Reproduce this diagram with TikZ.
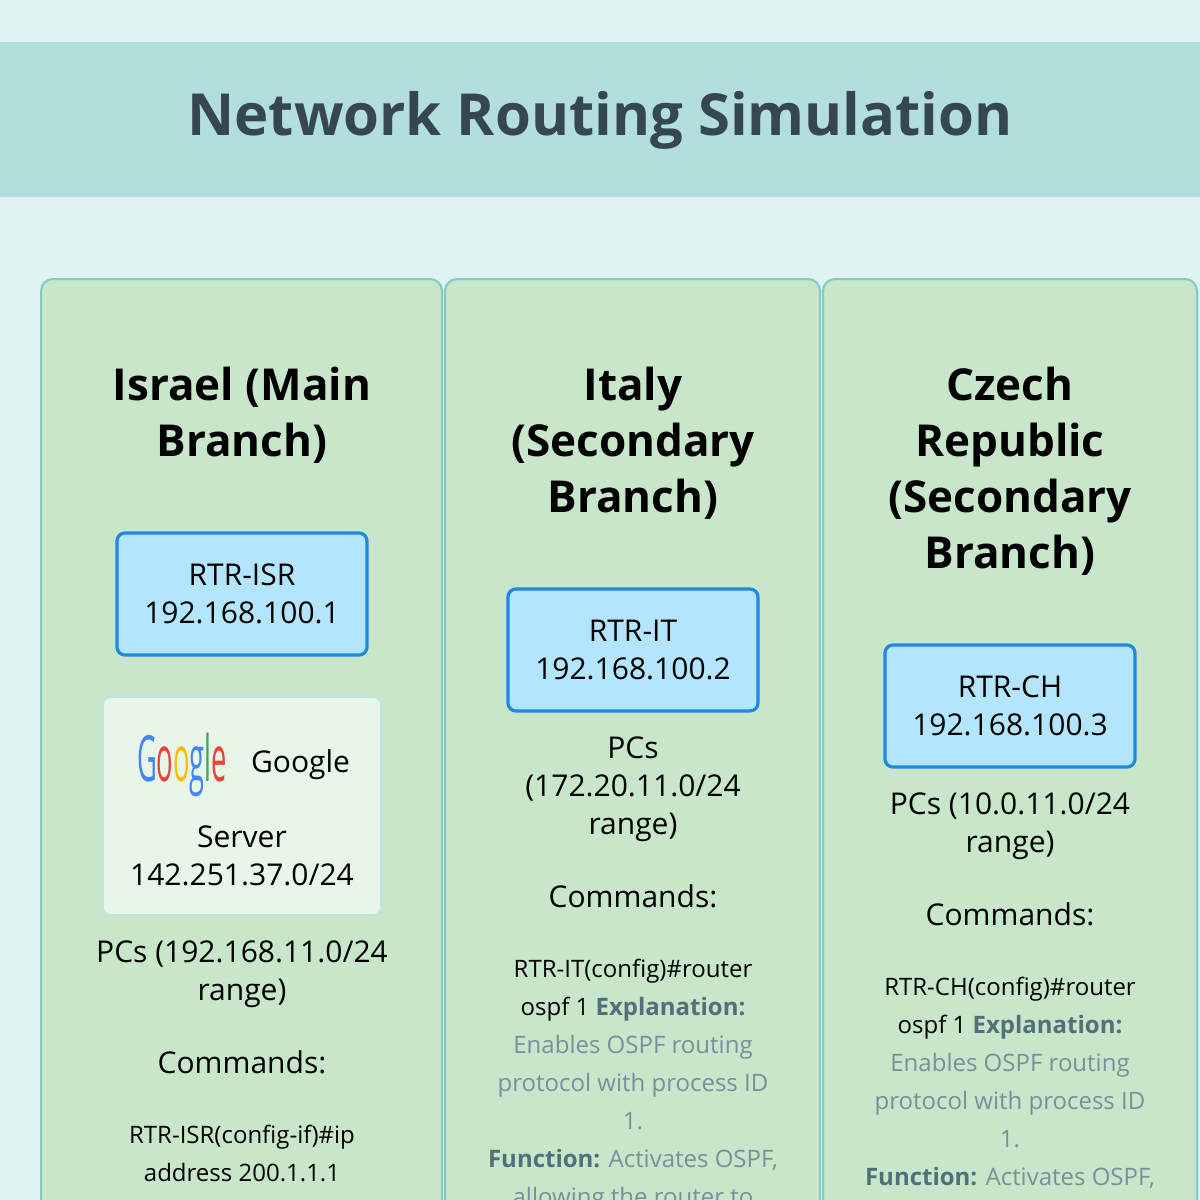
\documentclass[tikz,border=0pt]{standalone}
\usepackage{fontspec}
\setmainfont{Open Sans}
\usetikzlibrary{positioning}
\definecolor{pagebg}{HTML}{E0F2F1}
\definecolor{bandbg}{HTML}{B2DFDB}
\definecolor{titlefg}{HTML}{37474F}
\definecolor{colbg}{HTML}{C8E6C9}
\definecolor{colline}{HTML}{80CBC4}
\definecolor{rtrbg}{HTML}{B3E5FC}
\definecolor{rtrline}{HTML}{1E88E5}
\definecolor{srvbg}{HTML}{E8F5E9}
\definecolor{explfg}{HTML}{78909C}
\definecolor{lblfg}{HTML}{546E7A}
\definecolor{gblue}{HTML}{4285F4}
\definecolor{gred}{HTML}{EA4335}
\definecolor{gyellow}{HTML}{FBBC05}
\definecolor{ggreen}{HTML}{34A853}
\newcommand{\fsz}[2]{\fontsize{#1}{#2}\selectfont}
\newcommand{\lbl}[1]{{\bfseries\color{lblfg}#1}}
\newcommand{\expl}[1]{{\color{explfg}#1}}
\begin{document}
\begin{tikzpicture}[x=0.5pt,y=-0.5pt,
  column/.style={draw=colline, fill=colbg, line width=1pt, rounded corners=6pt},
  heading/.style={font=\fsz{22}{28}\bfseries, align=center, text=black},
  router/.style={draw=rtrline, fill=rtrbg, line width=1.6pt, rounded corners=4pt,
    minimum width=125pt, minimum height=61pt, align=center, font=\fsz{15}{19}},
  body/.style={font=\fsz{15}{19}, align=center},
  cmds/.style={font=\fsz{12}{19}, align=center, anchor=north}]
\useasboundingbox (0,0) rectangle (1200,1200);
\clip (0,0) rectangle (1200,1200);
\fill[pagebg] (0,0) rectangle (1200,1200);
\fill[bandbg] (0,42) rectangle (1200,197);
\node[text=titlefg, font=\fsz{29}{36}\bfseries] (title) at (600,120) {Network Routing Simulation};
% columns
\draw[column] (41,1230) -- (41,279) -- (442,279) -- (442,1230);
\draw[column] (445,1230) -- (445,279) -- (820,279) -- (820,1230);
\draw[column] (823,1230) -- (823,279) -- (1197,279) -- (1197,1230);
% Israel
\node[heading] (isrhead) at (242,415) {Israel (Main\\Branch)};
\node[router] (rtrisr) at (242,594) {RTR-ISR\\192.168.100.1};
\draw[draw=colline!50, fill=srvbg, rounded corners=4pt, line width=0.8pt] (103,697) rectangle (381,915);
\node[font=\fsz{22}{22}, xscale=0.62, yscale=1.45] (glogo) at (182,765) {\color{gblue}G\color{gred}o\color{gyellow}o\color{gblue}g\color{ggreen}l\color{gred}e};
\node[font=\fsz{15}{19}, anchor=west] (gname) at (244,765) {Google};
\node[body] (srv) at (242,856) {Server\\142.251.37.0/24};
\node[body] (isrpcs) at (242,974) {PCs (192.168.11.0/24\\range)};
\node[body] (isrcmd) at (242,1062) {Commands:};
\node[cmds] (isrlines) at (242,1118) {RTR-ISR(config-if)\#ip\\address 200.1.1.1};
% Italy
\node[heading] (ithead) at (633,443) {Italy\\(Secondary\\Branch)};
\node[router] (rtrit) at (633,650) {RTR-IT\\192.168.100.2};
\node[body] (itpcs) at (633,789) {PCs\\(172.20.11.0/24\\range)};
\node[body] (itcmd) at (633,896) {Commands:};
\node[cmds] (itlines) at (633,952) {RTR-IT(config)\#router\\ospf 1 \lbl{Explanation:}\\
  \expl{Enables OSPF routing}\\\expl{protocol with process ID}\\\expl{1.}\\
  \lbl{Function:} \expl{Activates OSPF,}\\\expl{allowing the router to}};
% Czech
\node[heading] (chhead) at (1010,471) {Czech\\Republic\\(Secondary\\Branch)};
\node[router] (rtrch) at (1010,706) {RTR-CH\\192.168.100.3};
\node[body] (chpcs) at (1010,826) {PCs (10.0.11.0/24\\range)};
\node[body] (chcmd) at (1010,914) {Commands:};
\node[cmds] (chlines) at (1010,970) {RTR-CH(config)\#router\\ospf 1 \lbl{Explanation:}\\
  \expl{Enables OSPF routing}\\\expl{protocol with process ID}\\\expl{1.}\\
  \lbl{Function:} \expl{Activates OSPF,}\\\expl{allowing the router to}};
\end{tikzpicture}
\end{document}
